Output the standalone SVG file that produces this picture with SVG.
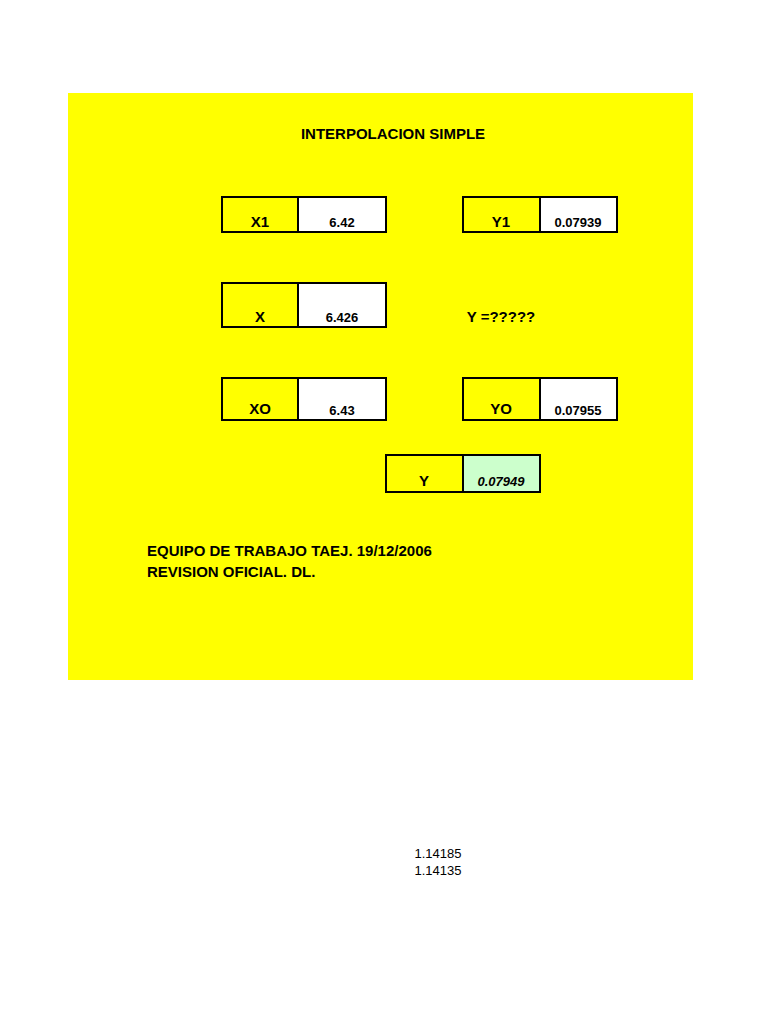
<svg xmlns="http://www.w3.org/2000/svg" width="768" height="1024" viewBox="0 0 768 1024">
<style>
.t{font-family:"Liberation Sans",Arial,sans-serif;font-weight:bold;fill:#000}
.l{font-size:15px}
.v{font-size:13px}
.b{stroke:#000;stroke-width:2}
</style>
<rect width="768" height="1024" fill="#fff"/>
<rect x="68" y="93" width="625" height="587" fill="#ffff00"/>
<text class="t" x="393" y="139" font-size="15" text-anchor="middle">INTERPOLACION SIMPLE</text>
<g id="x1"><rect class="b" x="222" y="197" width="76" height="35" fill="#ffff00"/><rect class="b" x="298" y="197" width="88" height="35" fill="#fff"/><text class="t l" x="260" y="227" text-anchor="middle">X1</text><text class="t v" x="342" y="227" text-anchor="middle">6.42</text></g>
<g id="y1"><rect class="b" x="463" y="197" width="77" height="35" fill="#ffff00"/><rect class="b" x="540" y="197" width="77" height="35" fill="#fff"/><text class="t l" x="501" y="227" text-anchor="middle">Y1</text><text class="t v" x="578" y="227" text-anchor="middle">0.07939</text></g>
<g id="x"><rect class="b" x="222" y="283" width="76" height="44" fill="#ffff00"/><rect class="b" x="298" y="283" width="88" height="44" fill="#fff"/><text class="t l" x="260" y="322" text-anchor="middle">X</text><text class="t v" x="342" y="322" text-anchor="middle">6.426</text></g>
<text class="t l" x="501" y="322" text-anchor="middle">Y =?????</text>
<g id="xo"><rect class="b" x="222" y="378" width="76" height="42" fill="#ffff00"/><rect class="b" x="298" y="378" width="88" height="42" fill="#fff"/><text class="t l" x="260" y="414" text-anchor="middle">XO</text><text class="t v" x="342" y="415" text-anchor="middle">6.43</text></g>
<g id="yo"><rect class="b" x="463" y="378" width="77" height="42" fill="#ffff00"/><rect class="b" x="540" y="378" width="77" height="42" fill="#fff"/><text class="t l" x="501" y="414" text-anchor="middle">YO</text><text class="t v" x="578" y="415" text-anchor="middle">0.07955</text></g>
<g id="y"><rect class="b" x="386" y="455" width="77" height="37" fill="#ffff00"/><rect class="b" x="463" y="455" width="77" height="37" fill="#ccffcc"/><text class="t l" x="424" y="486" text-anchor="middle">Y</text><text class="t v" x="501" y="486" text-anchor="middle" font-style="italic">0.07949</text></g>
<text class="t l" x="147" y="556">EQUIPO DE TRABAJO TAEJ. 19/12/2006</text>
<text class="t l" x="147" y="577">REVISION OFICIAL. DL.</text>
<text x="438" y="858" font-family="Liberation Sans,Arial,sans-serif" font-size="13" text-anchor="middle">1.14185</text>
<text x="438" y="875" font-family="Liberation Sans,Arial,sans-serif" font-size="13" text-anchor="middle">1.14135</text>
</svg>
